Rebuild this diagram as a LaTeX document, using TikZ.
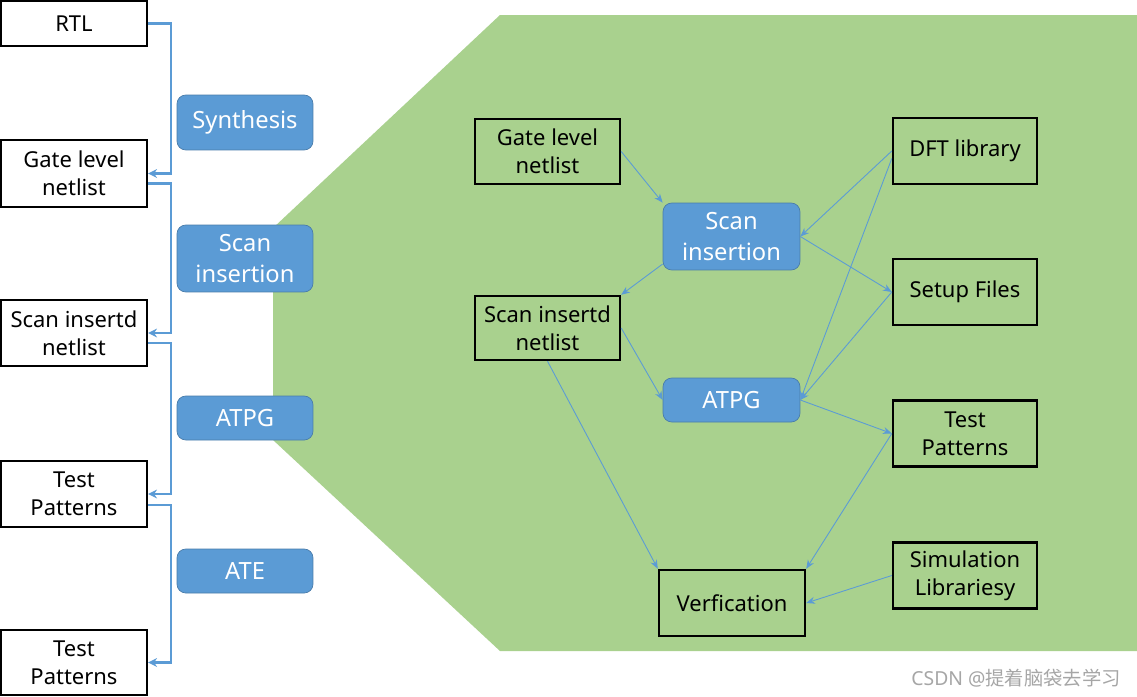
\documentclass[tikz,border=0pt]{standalone}
\usepackage{fontspec}
\setmainfont{Noto Sans}
\newfontfamily\cjk{Noto Sans CJK SC}
\usetikzlibrary{arrows.meta}
\definecolor{flowblue}{HTML}{5B9BD5}
\definecolor{areagreen}{HTML}{A9D18E}
\tikzset{
  box/.style={draw=black,line width=1.4pt,fill=white,align=center,inner sep=0pt,font=\fontsize{12.5}{16}\selectfont},
  gbox/.style={box,fill=none},
  stage/.style={draw=flowblue!80!black,line width=0.4pt,fill=flowblue,rounded corners=5pt,text=white,align=center,inner sep=0pt,minimum width=2.72cm,font=\fontsize{13.5}{18}\selectfont},
  bracket/.style={flowblue,line width=1.3pt,-{Stealth[length=5pt,width=5pt]}},
  link/.style={flowblue,line width=0.5pt,-{Stealth[length=5pt,width=4pt]}}
}
\begin{document}
\begin{tikzpicture}[x=0.02cm,y=-0.02cm]
  \useasboundingbox (0,0) rectangle (1137,697);
  \fill[white] (0,0) rectangle (1137,697);

  % DFT area
  \fill[areagreen] (500,15) -- (1137,15) -- (1137,651) -- (500,651) -- (273,440) -- (273,228) -- cycle;

  % left flow
  \node[box,minimum width=2.92cm,minimum height=0.9cm] (rtl) at (74,23.5) {RTL};
  \node[box,minimum width=2.92cm,minimum height=1.34cm] (gate) at (74,173.5) {Gate level\\netlist};
  \node[box,minimum width=2.92cm,minimum height=1.32cm] (scanned) at (74,333) {Scan insertd\\netlist};
  \node[box,minimum width=2.92cm,minimum height=1.32cm] (tp) at (74,494) {Test\\Patterns};
  \node[box,minimum width=2.92cm,minimum height=1.3cm] (tpate) at (74,662.5) {Test\\Patterns};

  \node[stage,minimum height=1.1cm] (synth) at (245,122.5) {Synthesis};
  \node[stage,minimum height=1.34cm] (scan) at (245,258.5) {Scan\\insertion};
  \node[stage,minimum height=0.88cm] (atpg) at (245,418) {ATPG};
  \node[stage,minimum height=0.88cm] (ate) at (245,571) {ATE};

  \draw[bracket] (rtl.east) -- ++(23,0) |- (gate.east);
  \draw[bracket] ([yshift=-0.2cm]gate.east) -- ++(23,0) |- (scanned.east);
  \draw[bracket] ([yshift=-0.2cm]scanned.east) -- ++(23,0) |- (tp.east);
  \draw[bracket] ([yshift=-0.22cm]tp.east) -- ++(23,0) |- (tpate.east);

  \node[gbox,minimum width=2.9cm,minimum height=1.3cm] (g2) at (547.5,151.5) {Gate level\\netlist};
  \node[stage,minimum width=2.74cm,minimum height=1.34cm] (scan2) at (731.5,236.5) {Scan\\insertion};
  \node[gbox,minimum width=2.9cm,minimum height=1.28cm] (sn2) at (547.5,328) {Scan insertd\\netlist};
  \node[stage,minimum width=2.74cm,minimum height=0.88cm] (atpg2) at (731.5,400) {ATPG};
  \node[gbox,minimum width=2.92cm,minimum height=1.32cm] (verf) at (732,603) {Verfication};
  \node[gbox,minimum width=2.88cm,minimum height=1.32cm] (dft) at (965,151) {DFT library};
  \node[gbox,minimum width=2.88cm,minimum height=1.32cm] (setup) at (965,292) {Setup Files};
  \node[gbox,minimum width=2.88cm,minimum height=1.32cm] (tp2) at (965,433.5) {Test\\Patterns};
  \node[gbox,minimum width=2.88cm,minimum height=1.32cm] (sim) at (965,575.5) {Simulation\\Librariesy};

  \draw[link] (g2.east) -- (scan2.north west);
  \draw[link] ([yshift=-0.55cm]scan2.west) -- (sn2.north east);
  \draw[link] (sn2.east) -- (atpg2.west);
  \draw[link] (sn2.south) -- (verf.north west);
  \draw[link] (dft.west) -- (scan2.east);
  \draw[link] ([yshift=-0.15cm]dft.west) -- (atpg2.east);
  \draw[link] (scan2.east) -- (setup.west);
  \draw[link] (setup.west) -- (atpg2.east);
  \draw[link] (atpg2.east) -- (tp2.west);
  \draw[link] (tp2.west) -- (verf.north east);
  \draw[link] (sim.west) -- (verf.east);

  \node[text=gray!70,anchor=east,font=\fontsize{11}{13}\selectfont] (mark) at (1127,678) {CSDN @{\cjk 提着脑袋去学习}};
\end{tikzpicture}
\end{document}
